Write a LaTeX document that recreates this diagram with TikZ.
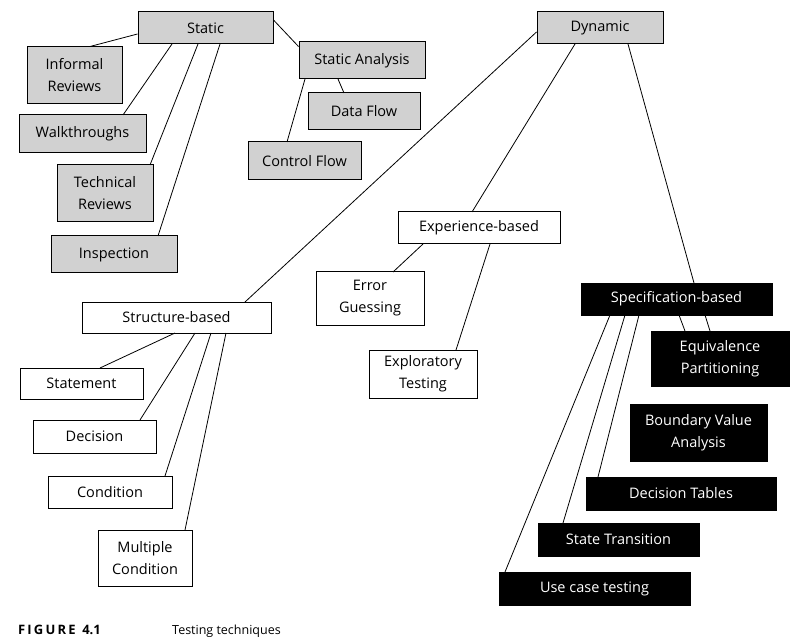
\documentclass[tikz,border=0pt]{standalone}
\usepackage{fontspec}
\setmainfont{Open Sans}
\begin{document}
\begin{tikzpicture}[x=1pt,y=-1pt,
 bx/.style={draw=black,line width=1pt,inner sep=0pt,align=center,font=\fontsize{14.5}{22}\selectfont},
 g/.style={bx,fill=black!18},
 w/.style={bx,fill=white},
 k/.style={bx,fill=black,text=white},
 ln/.style={line width=0.8pt}]
\useasboundingbox (0,0) rectangle (800,644);
\newcommand\bxn[6]{\node[#1,minimum width={#4-#3},minimum height={#6-#5}] (#2) at ({(#3+#4)/2},{(#5+#6)/2}) {};}
\node[g,minimum width=135,minimum height=32] (st) at (205.5,28) {Static};
\node[g,minimum width=95,minimum height=57] (ir) at (74.5,75.5) {Informal\\Reviews};
\node[g,minimum width=127,minimum height=38] (wt) at (82.5,134) {Walkthroughs};
\node[g,minimum width=96,minimum height=57] (tr) at (105,193.5) {Technical\\Reviews};
\node[g,minimum width=126,minimum height=37] (in) at (114,254.5) {Inspection};
\node[g,minimum width=126,minimum height=37] (sa) at (362,60.5) {Static Analysis};
\node[g,minimum width=112,minimum height=37] (df) at (364,111.5) {Data Flow};
\node[g,minimum width=113,minimum height=38] (cf) at (304.5,161) {Control Flow};
\node[g,minimum width=126,minimum height=32] (dy) at (600,28) {Dynamic};
\node[w,minimum width=162,minimum height=32] (eb) at (479,228) {Experience-based};
\node[w,minimum width=108,minimum height=53] (eg) at (370,298.5) {Error\\Guessing};
\node[w,minimum width=108,minimum height=48] (et) at (423,374) {Exploratory\\Testing};
\node[w,minimum width=189,minimum height=31] (sb) at (176.5,317.5) {Structure-based};
\node[w,minimum width=123,minimum height=31] (sm) at (81.5,383.5) {Statement};
\node[w,minimum width=123,minimum height=33] (de) at (94.5,436.5) {Decision};
\node[w,minimum width=124,minimum height=32] (co) at (110,492) {Condition};
\node[w,minimum width=94,minimum height=56] (mc) at (145,558) {Multiple\\Condition};
\node[k,minimum width=191,minimum height=32] (sp) at (676.5,299) {Specification-based};
\node[k,minimum width=138,minimum height=55] (ep) at (720,358.5) {Equivalence\\Partitioning};
\node[k,minimum width=137,minimum height=57] (bv) at (698.5,432.5) {Boundary Value\\Analysis};
\node[k,minimum width=190,minimum height=33] (dt) at (681,493.5) {Decision Tables};
\node[k,minimum width=161,minimum height=33] (stt) at (618.5,539.5) {State Transition};
\node[k,minimum width=191,minimum height=33] (uc) at (594.5,588.5) {Use case testing};
\begin{scope}[ln]
\draw ([yshift=-6]st.west) -- (ir.north -| 90,0);
\draw (172,44) -- (123,115);
\draw (198,44) -- (150,165);
\draw (220,44) -- (158,236);
\draw ([yshift=8]st.east) -- ([yshift=-5]sa.north west);
\draw (305,79) -- (287,142);
\draw (338,79) -- (344,93);
\draw ([yshift=-4]dy.west) -- (245,302);
\draw (575,44) -- (472,212);
\draw (628,44) -- (694,283);
\draw (423,244) -- (393,272);
\draw (490,244) -- (456,350);
\draw (175,333) -- (100,368);
\draw (195,333) -- (140,420);
\draw (211,333) -- (165,476);
\draw (226,333) -- (185,530);
\draw (679,315) -- (685,331);
\draw (705,315) -- (710,331);
\draw (610,315) -- (505,572);
\draw (625,315) -- (563,523);
\draw (639,315) -- (598,477);
\end{scope}
\node[anchor=base west,inner sep=0pt,font=\fontsize{13}{15}\selectfont\bfseries] (cap) at (18,634) {F\,I\,G\,U\,R\,E\ \ 4.1};
\node[anchor=base west,inner sep=0pt,font=\fontsize{12.5}{15}\selectfont] (capt) at (172,634) {Testing techniques};
\end{tikzpicture}
\end{document}
